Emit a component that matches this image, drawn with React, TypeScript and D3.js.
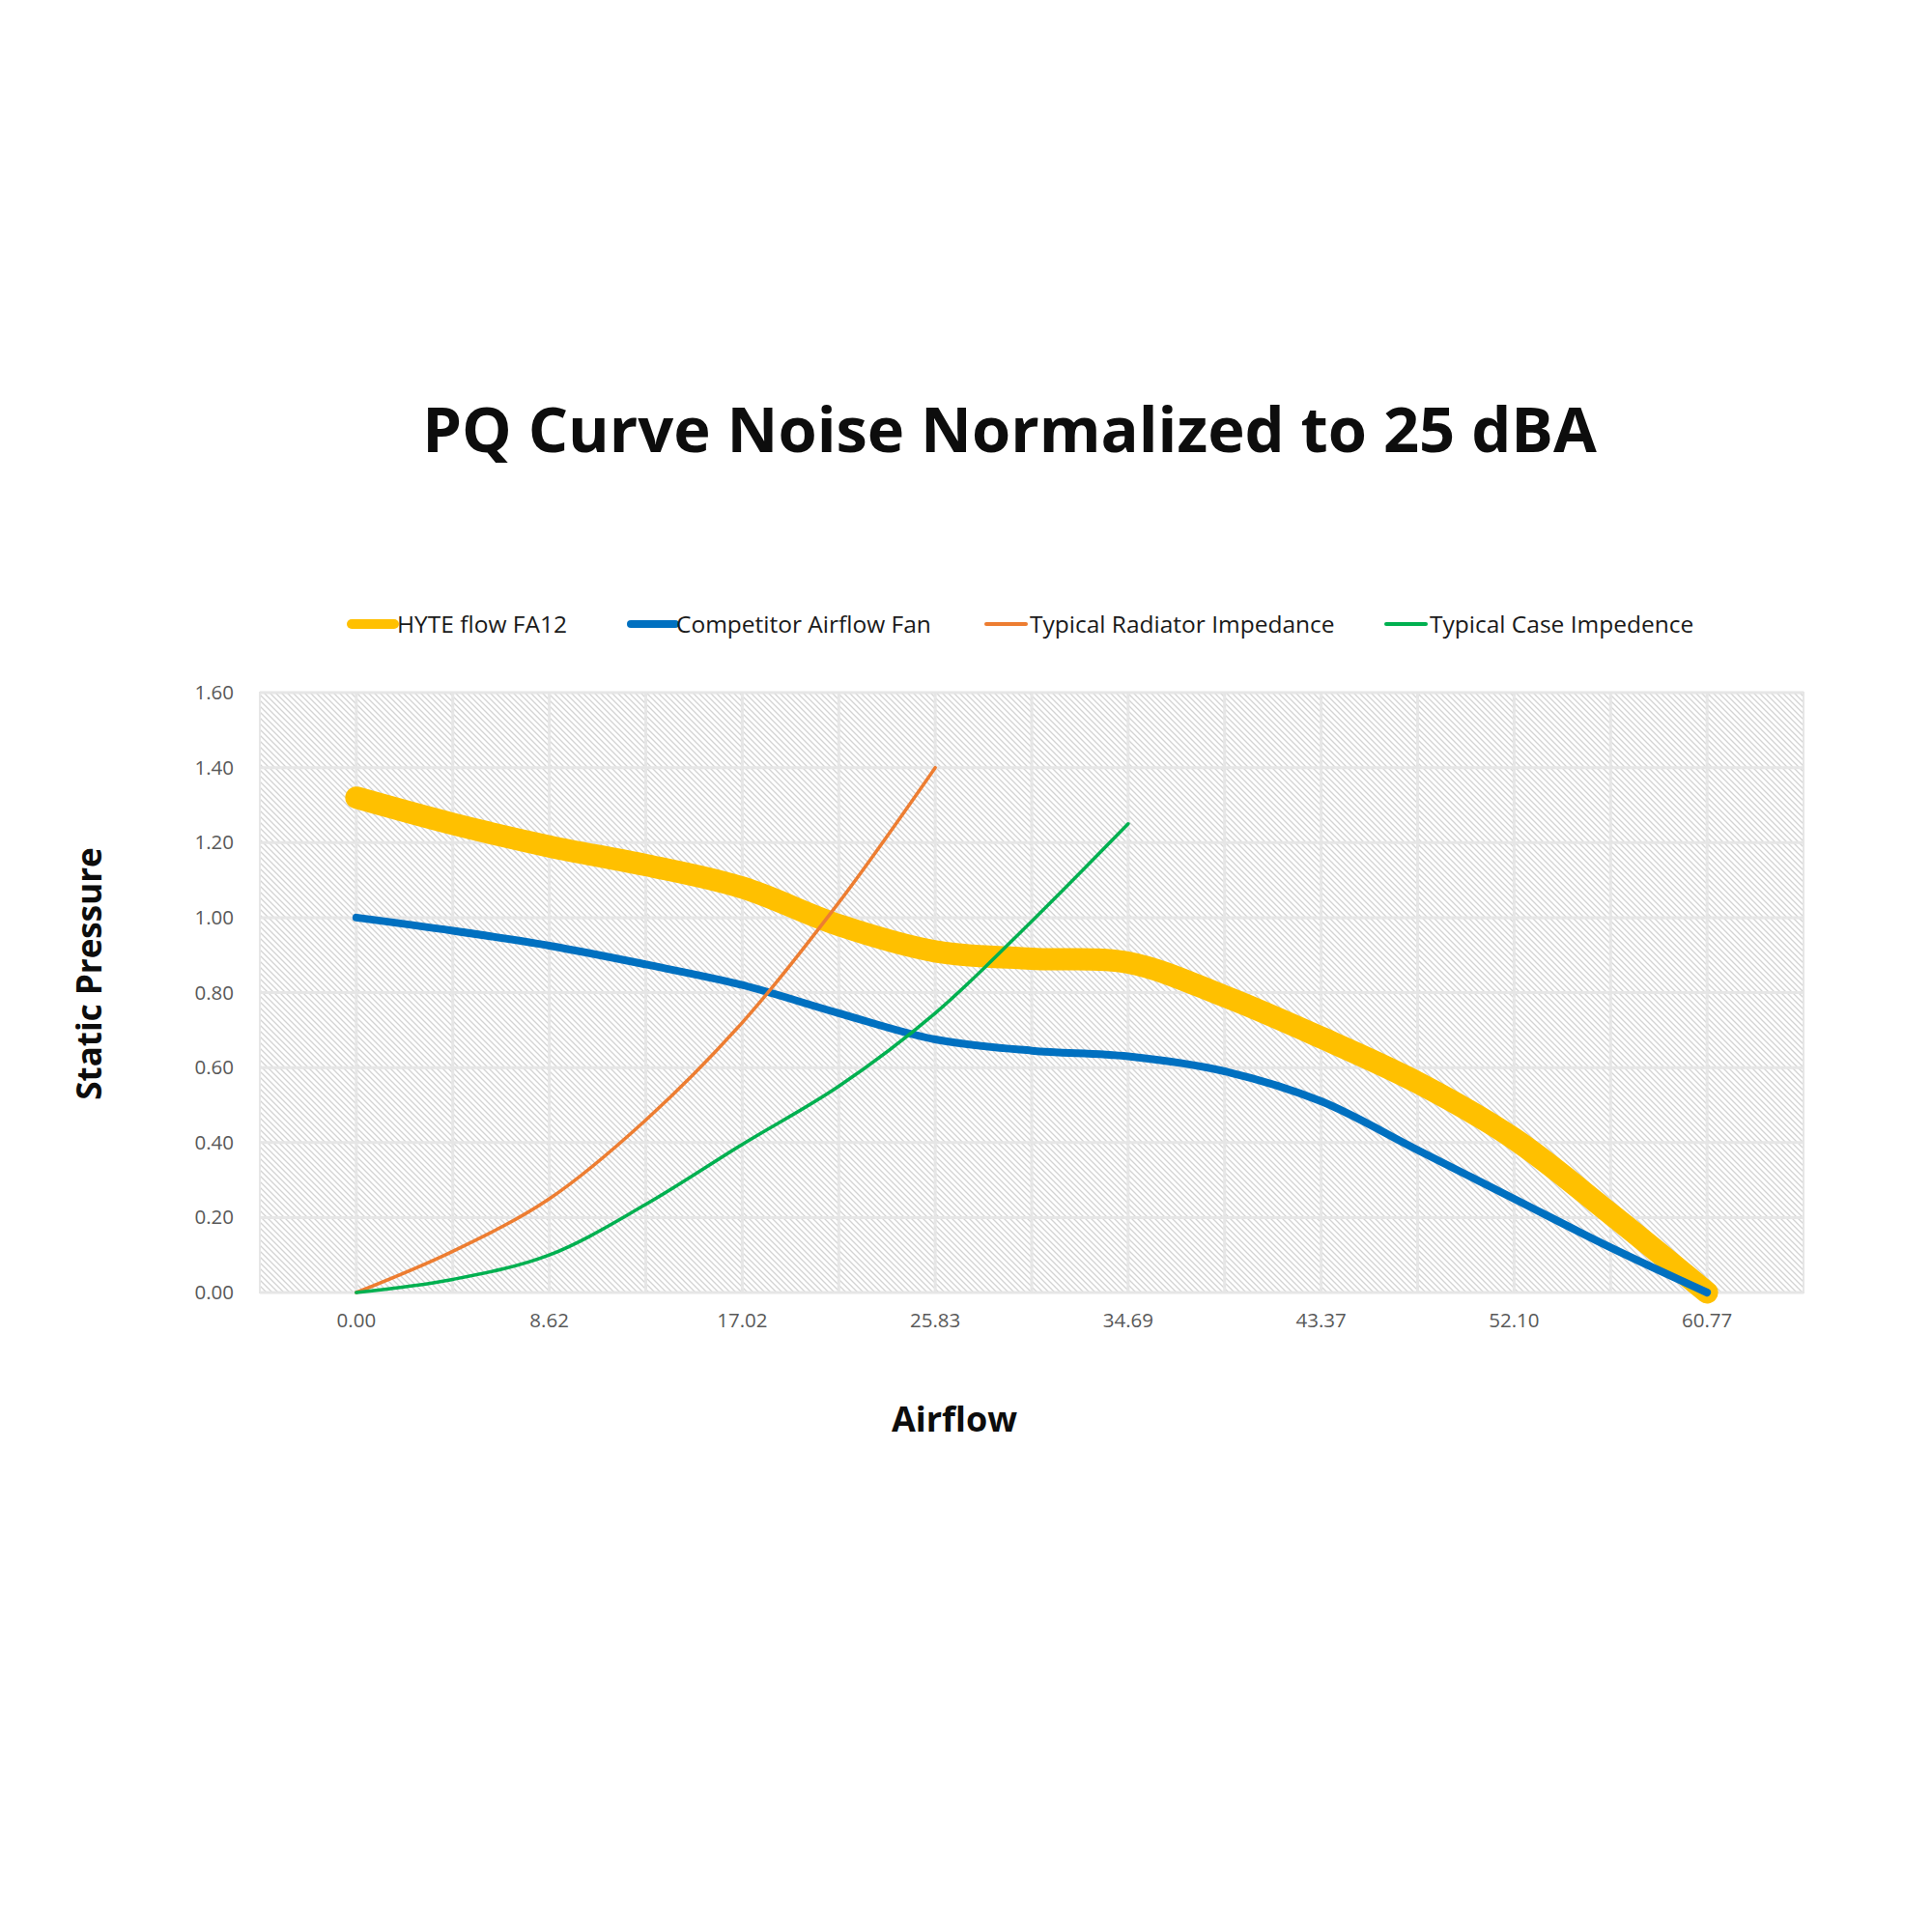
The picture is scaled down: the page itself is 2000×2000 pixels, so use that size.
import React from "react";
import * as d3 from "d3";

// ---- data ----
const xTickLabels = ["0.00", "8.62", "17.02", "25.83", "34.69", "43.37", "52.10", "60.77"];
// values at every category step (labels shown on every second one)
const hyteFA12 = [1.32, 1.25, 1.19, 1.14, 1.08, 0.98, 0.91, 0.89, 0.88, 0.79, 0.68, 0.56, 0.41, 0.21, 0.0];
const competitorFan = [1.0, 0.965, 0.925, 0.875, 0.82, 0.745, 0.675, 0.645, 0.63, 0.59, 0.51, 0.38, 0.25, 0.12, 0.0];
const radiatorImpedance = [0.0, 0.11, 0.25, 0.46, 0.72, 1.04, 1.4];
const caseImpedance = [0.0, 0.035, 0.1, 0.235, 0.395, 0.55, 0.745, 0.99, 1.25];
const yTicks = [0, 0.2, 0.4, 0.6, 0.8, 1.0, 1.2, 1.4, 1.6];
const categoryCount = 15;

const seriesNames = ["HYTE flow FA12", "Competitor Airflow Fan", "Typical Radiator Impedance", "Typical Case Impedence"];
const seriesColors = ["#FFC000", "#0070C0", "#ED7D31", "#00B050"];
const seriesWidths = [23, 8, 3.5, 3.5];
const legendWidths = [10, 8, 4, 4];

const W = 2000;
const H = 2000;
const plot = { left: 269, right: 1867, top: 717, bottom: 1338 };
const FONT = "'Open Sans', 'DejaVu Sans', sans-serif";

export default function App() {
  const x = d3.scaleLinear().domain([-1, categoryCount]).range([plot.left, plot.right]);
  const y = d3.scaleLinear().domain([0, 1.6]).range([plot.bottom, plot.top]);

  const series = [hyteFA12, competitorFan, radiatorImpedance, caseImpedance];
  const line = d3
    .line<number>()
    .x((_, i) => x(i))
    .y((d) => y(d))
    .curve(d3.curveCatmullRom.alpha(0.5));

  const gridX = d3.range(categoryCount);

  const legendItems = [
    { x0: 364, x1: 408, tx: 411 },
    { x0: 653, x1: 699, tx: 700 },
    { x0: 1021, x1: 1062, tx: 1066 },
    { x0: 1435, x1: 1476, tx: 1480 },
  ];
  const legendY = 646;

  return (
    <svg
      width={W}
      height={H}
      viewBox={`0 0 ${W} ${H}`}
      style={{ position: "absolute", left: 0, top: 0, background: "#fff" }}
    >
      <defs>
        <pattern id="hatch" patternUnits="userSpaceOnUse" width={6} height={6}>
          <rect width={6} height={6} fill="#ffffff" />
          <path d="M0,0 L6,6 M-1,5 L1,7 M5,-1 L7,1" stroke="#d3d3d3" strokeWidth={1.3} />
        </pattern>
      </defs>
      <rect width={W} height={H} fill="#fff" />

      {/* title */}
      <text
        x={1045}
        y={468}
        textAnchor="middle"
        fontFamily={FONT}
        fontWeight={700}
        fontSize={65}
        fill="#0d0d0d"
      >
        PQ Curve Noise Normalized to 25 dBA
      </text>

      {/* legend */}
      {seriesNames.map((name, i) => (
        <g key={name}>
          <line
            x1={legendItems[i].x0}
            x2={legendItems[i].x1}
            y1={legendY}
            y2={legendY}
            stroke={seriesColors[i]}
            strokeWidth={legendWidths[i]}
            strokeLinecap="round"
          />
          <text
            x={legendItems[i].tx}
            y={legendY + 8.5}
            fontFamily={FONT}
            fontSize={24.5}
            fill="#1a1a1a"
          >
            {name}
          </text>
        </g>
      ))}

      {/* plot area */}
      <rect
        x={plot.left}
        y={plot.top}
        width={plot.right - plot.left}
        height={plot.bottom - plot.top}
        fill="url(#hatch)"
      />
      {gridX.map((i) => (
        <line
          key={"gx" + i}
          x1={x(i)}
          x2={x(i)}
          y1={plot.top}
          y2={plot.bottom}
          stroke="#e6e6e6"
          strokeWidth={3}
        />
      ))}
      {yTicks.map((t) => (
        <line
          key={"gy" + t}
          x1={plot.left}
          x2={plot.right}
          y1={y(t)}
          y2={y(t)}
          stroke="#e6e6e6"
          strokeWidth={3}
        />
      ))}
      <rect
        x={plot.left}
        y={plot.top}
        width={plot.right - plot.left}
        height={plot.bottom - plot.top}
        fill="none"
        stroke="#e6e6e6"
        strokeWidth={2}
      />

      {/* y tick labels */}
      {yTicks.map((t) => (
        <text
          key={"yt" + t}
          x={242}
          y={y(t) + 7}
          textAnchor="end"
          fontFamily={FONT}
          fontSize={20.5}
          fill="#595959"
        >
          {d3.format(".2f")(t)}
        </text>
      ))}

      {/* x tick labels */}
      {xTickLabels.map((lab, k) => (
        <text
          key={"xt" + lab}
          x={x(k * 2)}
          y={1374}
          textAnchor="middle"
          fontFamily={FONT}
          fontSize={20.5}
          fill="#595959"
        >
          {lab}
        </text>
      ))}

      {/* series */}
      {series.map((vals, i) => (
        <path
          key={"s" + i}
          d={line(vals) || ""}
          fill="none"
          stroke={seriesColors[i]}
          strokeWidth={seriesWidths[i]}
          strokeLinecap="round"
          strokeLinejoin="round"
        />
      ))}

      {/* axis titles */}
      <text
        x={988}
        y={1482}
        textAnchor="middle"
        fontFamily={FONT}
        fontWeight={700}
        fontSize={36}
        fill="#0d0d0d"
      >
        Airflow
      </text>
      <text
        transform={`translate(105, 1008) rotate(-90)`}
        textAnchor="middle"
        fontFamily={FONT}
        fontWeight={700}
        fontSize={35}
        fill="#0d0d0d"
      >
        Static Pressure
      </text>
    </svg>
  );
}
